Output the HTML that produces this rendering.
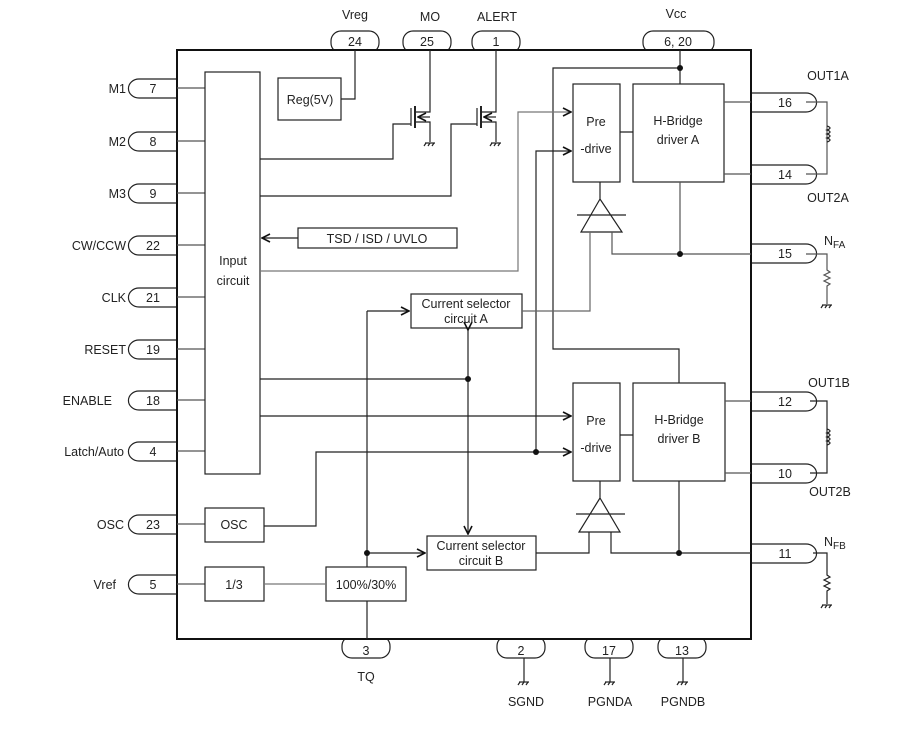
<!DOCTYPE html>
<html><head><meta charset="utf-8"><style>
html,body{margin:0;padding:0;background:#fff;}
svg{display:block;font-family:"Liberation Sans",Arial,sans-serif;}
text{font-size:12.5px;fill:#222;}
</style></head><body>
<svg width="908" height="734" viewBox="0 0 908 734" xmlns="http://www.w3.org/2000/svg">
<defs>
<marker id="a" markerWidth="10" markerHeight="10" refX="9" refY="5" orient="auto" markerUnits="userSpaceOnUse">
<path d="M1,1 L9,5 L1,9" fill="none" stroke="#111" stroke-width="1.6"/></marker>
<g id="gnd"><line x1="-5" y1="0" x2="5" y2="0" stroke="#222" stroke-width="1.2"/><line x1="-4" y1="0" x2="-6" y2="3" stroke="#222"/><line x1="0" y1="0" x2="-2" y2="3" stroke="#222"/><line x1="4" y1="0" x2="2" y2="3" stroke="#222"/></g>
</defs>
<g fill="none" stroke="#222" stroke-width="1.2">
<!-- top pins -->
<rect x="331" y="31" width="48" height="22" rx="10"/>
<rect x="403" y="31" width="48" height="22" rx="10"/>
<rect x="472" y="31" width="48" height="22" rx="10"/>
<rect x="643" y="31" width="71" height="22" rx="10"/>
<!-- bottom pins -->
<rect x="342" y="636" width="48" height="22" rx="10"/>
<rect x="497" y="636" width="48" height="22" rx="10"/>
<rect x="585" y="636" width="48" height="22" rx="10"/>
<rect x="658" y="636" width="48" height="22" rx="10"/>
<rect x="177" y="50" width="574" height="589" fill="#fff" stroke="none"/>
<!-- left pins -->
<g id="lp"><path d="M177,79 h-38 a10,9 0 0 0 0,19 h38"/></g>
<use href="#lp" y="53"/><use href="#lp" y="105"/><use href="#lp" y="157"/><use href="#lp" y="209"/>
<use href="#lp" y="261"/><use href="#lp" y="312"/><use href="#lp" y="363"/><use href="#lp" y="436"/><use href="#lp" y="496"/>
<!-- right pins -->
<g id="rp"><path d="M751,93 h55 a10,9 0 0 1 0,19 h-55"/></g>
<use href="#rp" y="72"/><use href="#rp" y="151"/><use href="#rp" y="299"/><use href="#rp" y="371"/><use href="#rp" y="451"/>
<rect x="177" y="50" width="574" height="589" stroke="#111" stroke-width="2"/>
<!-- left pin lines -->
<path d="M177,88 h28 M177,141 h28 M177,193 h28 M177,245 h28 M177,297 h28 M177,349 h28 M177,400 h28 M177,451 h28 M177,524 h28 M177,584 h28" stroke="#555"/>
<!-- blocks -->
<rect x="205" y="72" width="55" height="402"/>
<rect x="278" y="78" width="63" height="42"/>
<rect x="298" y="228" width="159" height="20"/>
<rect x="411" y="294" width="111" height="34"/>
<rect x="427" y="536" width="109" height="34"/>
<rect x="326" y="567" width="80" height="34"/>
<rect x="205" y="567" width="59" height="34"/>
<rect x="205" y="508" width="59" height="34"/>
<rect x="573" y="84" width="47" height="98"/>
<rect x="633" y="84" width="91" height="98"/>
<rect x="573" y="383" width="47" height="98"/>
<rect x="633" y="383" width="92" height="98"/>
<path d="M620,132 h13 M620,435 h13"/>
<path d="M355,50 V99 H341"/>
<path d="M430,50 V112 H415 M415,122 H430 V142 M411,108 V126 M260,159 H393 V124 H411"/>
<path d="M415,106 V128" stroke-width="2"/>
<path d="M430,117 H418" marker-end="url(#a)"/>
<use href="#gnd" x="430" y="143"/>
<path d="M496,50 V112 H481 M481,122 H496 V142 M477,108 V126 M260,196 H451 V124 H477"/>
<path d="M481,106 V128" stroke-width="2"/>
<path d="M496,117 H484" marker-end="url(#a)"/>
<use href="#gnd" x="496" y="143"/>
<path d="M298,238 H262" marker-end="url(#a)"/>
<path d="M680,50 V84 M680,68 H553 V349 H679 V383"/>
<path d="M260,271 H518 V112 H571" stroke="#777" marker-end="url(#a)"/>
<path d="M536,452 V151 H571" marker-end="url(#a)"/>
<path d="M600,182 V199 M600,199 L581,232 H622 Z M577,215 H626"/>
<path d="M590,232 V311 H522" stroke="#666"/>
<path d="M612,232 V254 H751 M680,182 V254" stroke="#555"/>
<path d="M724,102 H751 M724,174 H751" stroke="#555"/>
<path d="M806,102 H827 V174 H806" stroke="#555"/>
<path d="M827,126 q6,2 0,4 q6,2 0,4 q6,2 0,4 q6,2 0,4"/>
<path d="M806,254 H827 V270 l3,2 -6,3 6,3 -6,3 6,3 -3,2 V304" stroke="#555"/>
<use href="#gnd" x="827" y="305"/>
<path d="M260,379 H468"/>
<path d="M468,330 V534" marker-start="url(#a)" marker-end="url(#a)"/>
<path d="M260,416 H571" marker-end="url(#a)"/>
<path d="M264,526 H316 V452 H571" marker-end="url(#a)"/>
<path d="M600,481 V498 M600,498 L579,532 H620 Z M576,514 H625"/>
<path d="M536,553 H589 V532 M611,532 V553 H751 M679,481 V553"/>
<path d="M725,401 H751 M725,473 H751" stroke="#555"/>
<path d="M810,401 H827 V473 H810"/>
<path d="M827,429 q6,2 0,4 q6,2 0,4 q6,2 0,4 q6,2 0,4"/>
<path d="M813,553 H827 V575 l3,2 -6,3 6,3 -6,3 6,3 -3,2 V604"/>
<use href="#gnd" x="827" y="605"/>
<path d="M367,311 H409" marker-end="url(#a)"/>
<path d="M367,311 V567 M367,601 V639"/>
<path d="M367,553 H425" marker-end="url(#a)"/>
<path d="M264,584 H326" stroke="#777"/>
<path d="M524,658 V682 M610,658 V682 M683,658 V682"/>
<use href="#gnd" x="524" y="682"/><use href="#gnd" x="610" y="682"/><use href="#gnd" x="683" y="682"/>
</g>
<g fill="#111">
<circle cx="680" cy="68" r="3"/><circle cx="680" cy="254" r="3"/>
<circle cx="468" cy="379" r="3"/><circle cx="536" cy="452" r="3"/>
<circle cx="367" cy="553" r="3"/><circle cx="679" cy="553" r="3"/>
</g>
<g text-anchor="middle">
<text x="355" y="19">Vreg</text><text x="430" y="21">MO</text><text x="497" y="21">ALERT</text><text x="676" y="18">Vcc</text>
<text x="355" y="46">24</text><text x="427" y="46">25</text><text x="496" y="46">1</text><text x="678" y="46">6, 20</text>
<text x="366" y="655">3</text><text x="521" y="655">2</text><text x="609" y="655">17</text><text x="682" y="655">13</text>
<text x="366" y="681">TQ</text><text x="526" y="706">SGND</text><text x="610" y="706">PGNDA</text><text x="683" y="706">PGNDB</text>
<text x="153" y="93">7</text><text x="153" y="146">8</text><text x="153" y="198">9</text><text x="153" y="250">22</text>
<text x="153" y="302">21</text><text x="153" y="354">19</text><text x="153" y="405">18</text><text x="153" y="456">4</text>
<text x="153" y="529">23</text><text x="153" y="589">5</text>
<text x="785" y="107">16</text><text x="785" y="179">14</text><text x="785" y="258">15</text>
<text x="785" y="406">12</text><text x="785" y="478">10</text><text x="785" y="558">11</text>
<text x="828" y="80">OUT1A</text><text x="828" y="202">OUT2A</text>
<text x="829" y="387">OUT1B</text><text x="830" y="496">OUT2B</text>
<text x="233" y="265">Input</text><text x="233" y="285">circuit</text>
<text x="310" y="104">Reg(5V)</text>
<text x="377" y="243">TSD / ISD / UVLO</text>
<text x="466" y="308">Current selector</text><text x="466" y="323">circuit A</text>
<text x="481" y="550">Current selector</text><text x="481" y="565">circuit B</text>
<text x="366" y="589">100%/30%</text><text x="234" y="589">1/3</text><text x="234" y="529">OSC</text>
<text x="596" y="126">Pre</text><text x="596" y="153">-drive</text>
<text x="596" y="425">Pre</text><text x="596" y="452">-drive</text>
<text x="678" y="125">H-Bridge</text><text x="678" y="144">driver A</text>
<text x="679" y="424">H-Bridge</text><text x="679" y="443">driver B</text>
</g>
<g text-anchor="end">
<text x="126" y="93">M1</text><text x="126" y="146">M2</text><text x="126" y="198">M3</text><text x="126" y="250">CW/CCW</text>
<text x="126" y="302">CLK</text><text x="126" y="354">RESET</text><text x="112" y="405">ENABLE</text><text x="124" y="456">Latch/Auto</text>
<text x="124" y="529">OSC</text><text x="116" y="589">Vref</text>
</g>
<text x="824" y="245">N<tspan font-size="10" dy="3">FA</tspan></text>
<text x="824" y="546">N<tspan font-size="10" dy="3">FB</tspan></text>
</svg>
</body></html>
